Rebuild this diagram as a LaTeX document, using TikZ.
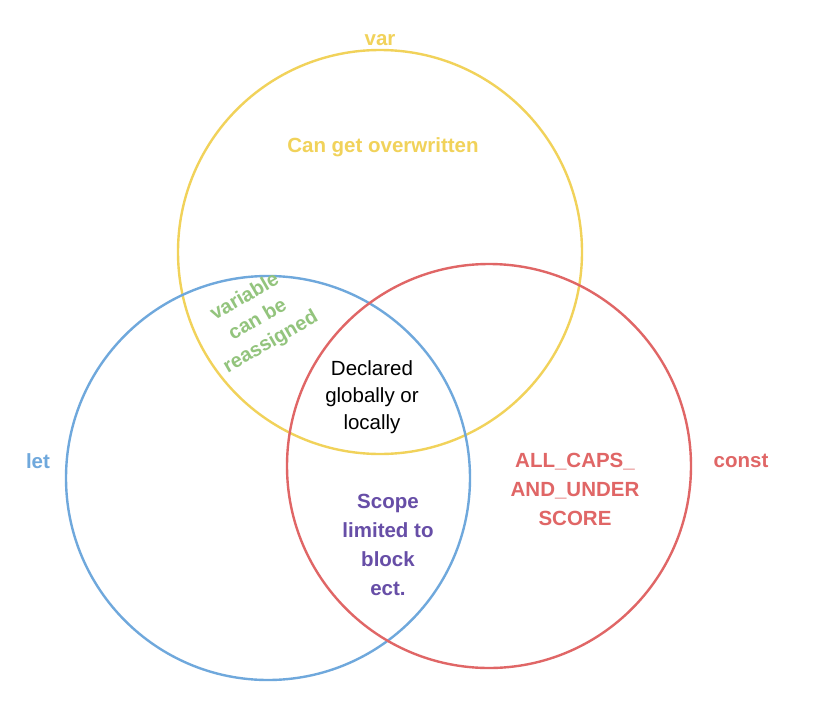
\documentclass[tikz,border=0pt]{standalone}
\usepackage{fontspec}
\setmainfont{Liberation Sans}
\definecolor{cy}{HTML}{F1D25A}
\definecolor{cb}{HTML}{6FA8DC}
\definecolor{cr}{HTML}{E06666}
\definecolor{cg}{HTML}{93C47D}
\definecolor{cp}{HTML}{674EA7}
\begin{document}
\begin{tikzpicture}[x=1pt,y=-1pt,
  circ/.style={draw,line width=2.4pt},
  lab/.style={font=\fontsize{20.5}{25}\selectfont\bfseries,align=center}]
\useasboundingbox[fill=white] (0,0) rectangle (819,717);
\node[circ,cy,circle,minimum size=404pt] (var) at (380,252) {};
\node[circ,cb,circle,minimum size=404pt] (let) at (268,478) {};
\node[circ,cr,circle,minimum size=404pt] (const) at (489,466) {};
\node[lab,cy] (tv) at (380,40) {var};
\node[lab,cy] (tv2) at (383,147) {Can get overwritten};
\node[lab,cb] (tl) at (38,461) {let};
\node[lab,cr] (tc) at (741,461) {const};
\node[lab,cg,rotate=30,font=\fontsize{20}{26}\selectfont\bfseries] (tg) at (258,320) {variable\\can be\\reassigned};
\node[align=center,font=\fontsize{20.5}{27}\selectfont] (td) at (372,397) {Declared\\globally or\\locally};
\node[lab,cp,font=\fontsize{20.5}{29}\selectfont\bfseries] (tp) at (388,545) {Scope\\limited to\\block\\ect.};
\node[lab,cr,font=\fontsize{20.5}{29}\selectfont\bfseries] (ta) at (575,489) {ALL\_CAPS\_\\AND\_UNDER\\SCORE};
\end{tikzpicture}
\end{document}
